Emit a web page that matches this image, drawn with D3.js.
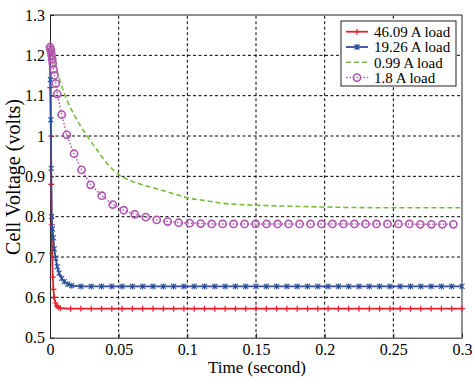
<!DOCTYPE html>
<html><head><meta charset="utf-8">
<script src="https://cdn.jsdelivr.net/npm/d3@7"></script>
<style>
html,body{margin:0;padding:0;background:#fff;}
svg text{font-family:"Liberation Serif","Times New Roman",serif !important;}
</style></head>
<body><svg id="c" width="474" height="381"></svg>
<script>
// ---- data ----
const xTicks = [0, 0.05, 0.1, 0.15, 0.2, 0.25, 0.3];
const xTickLabels = ["0", "0.05", "0.1", "0.15", "0.2", "0.25", "0.3"];
const yTicks = [0.5, 0.6, 0.7, 0.8, 0.9, 1.0, 1.1, 1.2, 1.3];
const yTickLabels = ["0.5", "0.6", "0.7", "0.8", "0.9", "1", "1.1", "1.2", "1.3"];
const seriesNames = ["46.09 A load", "19.26 A load", "0.99 A load", "1.8 A load"];

const tailT = [0.0225, 0.03, 0.0375, 0.045, 0.0525, 0.06, 0.0675, 0.075, 0.0825, 0.09, 0.0975, 0.105, 0.1125, 0.12, 0.1275, 0.135, 0.1425, 0.15, 0.1575, 0.165, 0.1725, 0.18, 0.1875, 0.195, 0.2025, 0.21, 0.2175, 0.225, 0.2325, 0.24, 0.2475, 0.255, 0.2625, 0.27, 0.2775, 0.285, 0.2925, 0.3];

const redHeadT = [0, 0.0003, 0.0006, 0.0009, 0.0012, 0.0015, 0.002, 0.0025, 0.003, 0.004, 0.005, 0.006, 0.0075, 0.015];
const redHeadV = [1.21, 1.12, 1.0, 0.88, 0.78, 0.71, 0.65, 0.62, 0.60, 0.586, 0.579, 0.575, 0.573, 0.572];
const redTailV = [0.572, 0.572, 0.572, 0.572, 0.572, 0.572, 0.572, 0.572, 0.572, 0.572, 0.572, 0.572, 0.572, 0.572, 0.572, 0.572, 0.572, 0.572, 0.572, 0.572, 0.572, 0.572, 0.572, 0.572, 0.572, 0.572, 0.572, 0.572, 0.572, 0.572, 0.572, 0.572, 0.572, 0.572, 0.572, 0.572, 0.572, 0.572];

const blueHeadT = [0, 0.0003, 0.0006, 0.0009, 0.0012, 0.0018, 0.0024, 0.0031, 0.0041, 0.0053, 0.0066, 0.0085, 0.0104, 0.0129, 0.0158];
const blueHeadV = [1.21, 1.14, 1.04, 0.92, 0.80, 0.77, 0.748, 0.72, 0.697, 0.676, 0.66, 0.647, 0.639, 0.633, 0.629];
const blueTailV = [0.627, 0.627, 0.627, 0.627, 0.627, 0.627, 0.627, 0.627, 0.627, 0.627, 0.627, 0.627, 0.627, 0.627, 0.627, 0.627, 0.627, 0.627, 0.627, 0.627, 0.627, 0.627, 0.627, 0.627, 0.627, 0.627, 0.627, 0.627, 0.627, 0.627, 0.627, 0.627, 0.627, 0.627, 0.627, 0.627, 0.627, 0.627];

const greenT = [0, 0.002, 0.0036, 0.011, 0.018, 0.027, 0.035, 0.042, 0.05, 0.058, 0.0656, 0.08, 0.09, 0.1, 0.115, 0.124, 0.146, 0.175, 0.2, 0.25, 0.3];
const greenV = [1.22, 1.20, 1.18, 1.10, 1.05, 1.00, 0.962, 0.93, 0.905, 0.89, 0.881, 0.867, 0.857, 0.847, 0.839, 0.834, 0.829, 0.826, 0.824, 0.822, 0.822];

const pinkT = [0, 0.0004, 0.0008, 0.0012, 0.0016, 0.002, 0.0026, 0.0033, 0.0042, 0.0053, 0.0085, 0.0122, 0.0175, 0.023, 0.0296, 0.0377, 0.0457, 0.0537, 0.0617, 0.0697, 0.0777, 0.0857, 0.0937, 0.1017, 0.1097, 0.1177, 0.1257, 0.1337, 0.1417, 0.1497, 0.1577, 0.1657, 0.1737, 0.1817, 0.1897, 0.1977, 0.2057, 0.2137, 0.2217, 0.2297, 0.2377, 0.2457, 0.2537, 0.2617, 0.2697, 0.2777, 0.2857, 0.2937];
const pinkV = [1.22, 1.215, 1.21, 1.20, 1.19, 1.18, 1.165, 1.15, 1.13, 1.104, 1.053, 1.003, 0.956, 0.916, 0.879, 0.852, 0.830, 0.816, 0.806, 0.799, 0.792, 0.788, 0.785, 0.784, 0.783, 0.782, 0.782, 0.782, 0.782, 0.782, 0.782, 0.782, 0.782, 0.782, 0.782, 0.782, 0.782, 0.782, 0.782, 0.782, 0.782, 0.782, 0.782, 0.782, 0.781, 0.781, 0.781, 0.781];

const colors = ["#e3222b", "#2b4f9e", "#78bb3c", "#b156b3"];

// ---- build ----
const svg = d3.select("#c");
const x = d3.scaleLinear().domain([0, 0.3]).range([50, 462]);
const y = d3.scaleLinear().domain([0.5, 1.3]).range([337.7, 15]);

const zip = (ts, vs) => ts.map((t, i) => [t, vs[i]]);
const red = zip(redHeadT.concat(tailT), redHeadV.concat(redTailV));
const blue = zip(blueHeadT.concat(tailT), blueHeadV.concat(blueTailV));
const green = zip(greenT, greenV);
const pink = zip(pinkT, pinkV);

// grid
const grid = svg.append("g").attr("stroke", "#000").attr("stroke-width", 1).attr("stroke-dasharray", "3,2.5");
xTicks.slice(1, -1).forEach(t => grid.append("line").attr("x1", x(t)).attr("x2", x(t)).attr("y1", y(0.5)).attr("y2", y(1.3)));
yTicks.slice(1, -1).forEach(v => grid.append("line").attr("x1", x(0)).attr("x2", x(0.3)).attr("y1", y(v)).attr("y2", y(v)));

// axes
const xAxis = d3.axisBottom(x).tickValues(xTicks).tickFormat((d, i) => xTickLabels[i]).tickSizeInner(-4).tickSizeOuter(0).tickPadding(6);
const yAxis = d3.axisLeft(y).tickValues(yTicks).tickFormat((d, i) => yTickLabels[i]).tickSizeInner(-4).tickSizeOuter(0).tickPadding(5);
const gx = svg.append("g").attr("transform", `translate(0,${y(0.5)})`).call(xAxis);
const gy = svg.append("g").attr("transform", `translate(${x(0)},0)`).call(yAxis);
[gx, gy].forEach(g => {
  g.attr("font-family", null).attr("font-size", null);
  g.selectAll("text").attr("font-size", 16).attr("fill", "#000");
  g.selectAll("line,path").attr("stroke", "#222");
});
gx.selectAll("text").attr("dy", "0.71em");
// box top/right
svg.append("line").attr("x1", x(0)).attr("x2", x(0.3)).attr("y1", y(1.3)).attr("y2", y(1.3)).attr("stroke", "#222");
svg.append("line").attr("x1", x(0.3)).attr("x2", x(0.3)).attr("y1", y(1.3)).attr("y2", y(0.5)).attr("stroke", "#222");

// titles
svg.append("text").attr("x", 257).attr("y", 373).attr("text-anchor", "middle").attr("font-size", 17).text("Time (second)");
svg.append("text").attr("transform", "translate(20,177) rotate(-90)").attr("text-anchor", "middle").attr("font-size", 20).text("Cell Voltage (volts)");

const line = d3.line().x(d => x(d[0])).y(d => y(d[1]));
const smooth = d3.line().x(d => x(d[0])).y(d => y(d[1])).curve(d3.curveMonotoneX);

function plus(g, cx, cy, c) {
  g.append("path").attr("d", `M${cx-3},${cy}H${cx+3}M${cx},${cy-3}V${cy+3}`).attr("stroke", c).attr("stroke-width", 1.2).attr("fill", "none");
}
function star(g, cx, cy, c) {
  g.append("path").attr("d", `M${cx-2.5},${cy-2.5}L${cx+2.5},${cy+2.5}M${cx-2.5},${cy+2.5}L${cx+2.5},${cy-2.5}M${cx},${cy-3}V${cy+3}`).attr("stroke", c).attr("stroke-width", 1.1).attr("fill", "none");
}
function circ(g, cx, cy, c) {
  g.append("circle").attr("cx", cx).attr("cy", cy).attr("r", 3.6).attr("fill", "none").attr("stroke", c).attr("stroke-width", 1.6);
}

// red
const gr = svg.append("g");
gr.append("path").attr("d", line(red)).attr("fill", "none").attr("stroke", colors[0]).attr("stroke-width", 1.8);
red.forEach(d => plus(gr, x(d[0]), y(d[1]), colors[0]));
// blue
const gb = svg.append("g");
gb.append("path").attr("d", line(blue)).attr("fill", "none").attr("stroke", colors[1]).attr("stroke-width", 1.8);
blue.forEach(d => star(gb, x(d[0]), y(d[1]), colors[1]));
// green
svg.append("path").attr("d", smooth(green)).attr("fill", "none").attr("stroke", colors[2]).attr("stroke-width", 1.6).attr("stroke-dasharray", "5,3");
// pink
const gp = svg.append("g");
gp.append("path").attr("d", line(pink)).attr("fill", "none").attr("stroke", colors[3]).attr("stroke-width", 1.5).attr("stroke-dasharray", "1.5,2");
pink.forEach(d => circ(gp, x(d[0]), y(d[1]), colors[3]));

// legend
const lg = svg.append("g");
lg.append("rect").attr("x", 341).attr("y", 21).attr("width", 115).attr("height", 65).attr("fill", "#fff").attr("stroke", "#222");
seriesNames.forEach((n, i) => {
  const yy = 31.7 + i * 15.3;
  const c = colors[i];
  const l = lg.append("line").attr("x1", 346).attr("x2", 368).attr("y1", yy).attr("y2", yy).attr("stroke", c).attr("stroke-width", i < 2 ? 1.8 : 1.5);
  if (i === 2) l.attr("stroke-dasharray", "5,3");
  if (i === 3) l.attr("stroke-dasharray", "1.5,2");
  if (i === 0) plus(lg, 357, yy, c);
  if (i === 1) star(lg, 357, yy, c);
  if (i === 3) circ(lg, 357, yy, c);
  lg.append("text").attr("x", 374).attr("y", yy).attr("dy", "0.35em").attr("font-size", 15).text(n);
});
</script></body></html>
